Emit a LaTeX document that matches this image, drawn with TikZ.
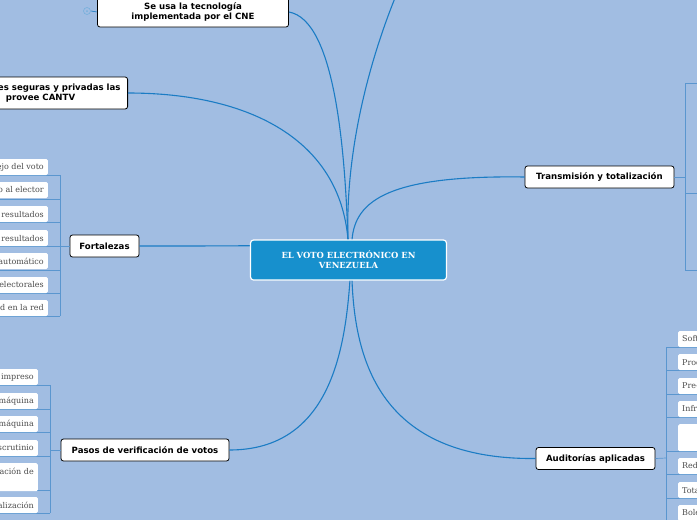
\documentclass[tikz,border=0pt]{standalone}
\usepackage{fontspec}
\setmainfont{DejaVu Serif}
\newfontfamily\lab{DejaVu Sans}
\begin{document}
\begin{tikzpicture}[x=1pt,y=-1pt]
\definecolor{bg}{HTML}{A1BDE2}
\definecolor{cl}{HTML}{1B7CC4}
\definecolor{bl}{HTML}{5A96CF}
\tikzset{
  lbl/.style={draw=black,fill=white,rounded corners=2.5pt,line width=0.8pt,font=\lab\bfseries\fontsize{8.6}{10.5}\selectfont,inner xsep=7pt,inner ysep=4pt,align=center},
  leaf/.style={fill=white,rounded corners=1.5pt,font=\fontsize{8}{10}\selectfont,text=black!70,minimum height=16pt,inner xsep=4pt},
  con/.style={draw=cl,line width=1.1pt},br/.style={draw=bl,line width=0.7pt}}
\useasboundingbox (0,0) rectangle (697,520);
\clip (0,0) rectangle (697,520);
\fill[bg] (0,0) rectangle (697,520);
\coordinate (c) at (348,240);
\coordinate (top) at (395,-2);
\node[lbl,minimum width=191pt,minimum height=30pt] (cne) at (193,12) {Se usa la tecnología\\implementada por el CNE};
\node[lbl,anchor=east,minimum height=32pt] (cantv) at (128,93) {Son redes seguras y privadas las\\provee CANTV};
\node[lbl,minimum width=69pt,minimum height=22pt] (fort) at (104.5,246) {Fortalezas};
\node[lbl,minimum width=168pt,minimum height=22pt] (pasos) at (145,450) {Pasos de verificación de votos};
\node[lbl,minimum width=149pt,minimum height=22pt] (trans) at (599.5,177) {Transmisión y totalización};
\node[lbl,minimum width=119pt,minimum height=22pt] (aud) at (595.5,458.5) {Auditorías aplicadas};
\draw[con] (cne.east) .. controls (335,20) and (345,150) .. (c);
\draw[con] (cantv.east) .. controls (250,93) and (340,140) .. (c);
\draw[con] (fort.east) .. controls (250,246) and (340,246) .. (c);
\draw[con] (pasos.east) .. controls (330,450) and (345,350) .. (350,280);
\draw[con] (trans.west) .. controls (390,175) and (355,200) .. (352,240);
\draw[con] (aud.west) .. controls (380,460) and (355,360) .. (352,280);
\draw[con] (top) .. controls (370,60) and (345,150) .. (c);
\draw[cl,line width=0.6pt] (cne.west) -- (91,11);
\node[circle,draw=cl!60,fill=bg,inner sep=0pt,minimum size=7pt,line width=0.6pt] (dot) at (87,11) {};
\node[circle,fill=cl!60,inner sep=0pt,minimum size=2pt] (dotc) at (87,11) {};
\node[draw=white,line width=1.2pt,fill=cl!85!cyan,rounded corners=3pt,minimum width=196pt,minimum height=40pt,align=center,text=white,font=\bfseries\fontsize{8.4}{10}\selectfont] (ctr) at (348.5,260) {EL VOTO ELECTRÓNICO EN\\VENEZUELA};
% Fortalezas leaves
\draw[br] (fort.west) -- (60,246);
\draw[br] (60,175) -- (60,316);
\foreach \y in {175,199,222,246,270,293,316} \draw[br] (0,\y) -- (60,\y);
\foreach \y/\t [count=\i] in {167/Secreto y manejo del voto,190/Acceso al elector,214/Verificación de resultados,238/Auditoría de resultados,261/Escrutinio automático,285/Tiempos electorales,308/Seguridad en la red}
  \node[leaf,anchor=east] (f\i) at (48,\y) {\t};
% Pasos leaves
\draw[br] (pasos.west) -- (50,450);
\draw[br] (50,385) -- (50,513);
\foreach \y in {385,409,432,456,490,513} \draw[br] (0,\y) -- (50,\y);
\foreach \y/\t [count=\i] in {377/Comprobante impreso,401/Votación en la máquina,424/Cierre de la máquina,448/Acta de escrutinio}
  \node[leaf,anchor=east] (p\i) at (38,\y) {\t};
\node[leaf,anchor=north east,minimum height=28pt,align=right,text depth=11pt] (p5) at (38,463) {Transmisión y totalización de};
\node[leaf,anchor=east] (p6) at (38,505) {Acta de totalización};
% Transmision bracket
\draw[br] (trans.east) -- (685,177);
\draw[br] (685,83) -- (685,270);
\foreach \y in {83,193,270} \draw[br] (685,\y) -- (697,\y);
% Auditorias leaves
\draw[br] (aud.east) -- (666,458);
\draw[br] (666,347) -- (666,520);
\foreach \y in {347,370,394,417,451,474,498} \draw[br] (666,\y) -- (697,\y);
\foreach \y/\t [count=\i] in {339/Software,362/Producción,386/Pre-despacho,409/Infraestructura,466/Red,490/Totalización,513/Boletas}
  \node[leaf,anchor=west] (a8x\i) at (678,\y) {\t};
\node[leaf,anchor=north west,minimum height=27pt,minimum width=40pt,text depth=11pt,align=left] (a8) at (678,424) {\hspace*{4pt}S};
\end{tikzpicture}
\end{document}
